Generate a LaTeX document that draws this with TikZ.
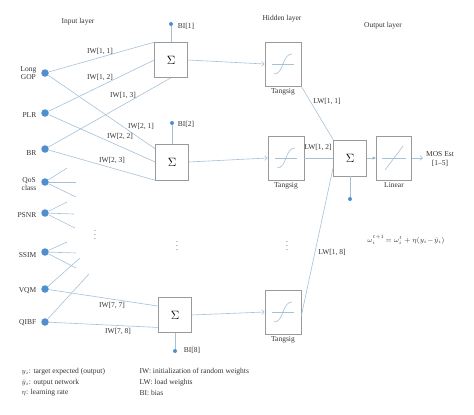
\documentclass[tikz,border=0pt]{standalone}
\usepackage{fontspec}
\setmainfont{Liberation Serif}
\usetikzlibrary{arrows.meta,calc}
\definecolor{linec}{HTML}{A6C1D6}
\definecolor{dotc}{HTML}{4F8FD0}
\definecolor{boxc}{HTML}{9A9A9A}
\definecolor{txtc}{HTML}{333333}
\tikzset{
  wire/.style={draw=linec,line width=0.6pt},
  indot/.style={circle,fill=dotc,inner sep=0pt,minimum size=7.5pt},
  bdot/.style={circle,fill=dotc,inner sep=0pt,minimum size=4pt},
  sumbox/.style={draw=boxc,line width=0.6pt,minimum width=33pt,minimum height=35pt,inner sep=0pt,font=\fontsize{12}{13}\selectfont},
  actbox/.style={draw=boxc,line width=0.6pt,minimum width=36pt,minimum height=44pt,inner sep=0pt},
  lbl/.style={text=txtc,inner sep=0.5pt,font=\fontsize{7.5}{8.5}\selectfont},
  inlbl/.style={lbl,anchor=east,align=center},
  icon/.style={draw=linec,line width=0.6pt},
  openarr/.style={-{Straight Barb[length=2.5pt,width=4.5pt]}},
  sigm/.pic={\draw[icon] (-11,0)--(11,0); \draw[icon] (-9,10) .. controls (1,10) and (-1,-10) .. (9,-10);},
  linr/.pic={\draw[icon] (-12,0)--(12,0); \draw[icon] (-9,12)--(9,-12);}
}
\begin{document}
\begin{tikzpicture}[x=1pt,y=-1pt]
\useasboundingbox (0,0) rectangle (474,415);
% headers
\node[lbl] (hin) at (78,22) {Input layer};
\node[lbl] (hhid) at (282,19) {Hidden layer};
\node[lbl] (hout) at (383,26) {Output layer};
% input dots
\node[indot] (i1) at (45,73) {};
\node[indot] (i2) at (45,113) {};
\node[indot] (i3) at (45,149) {};
\node[indot] (i4) at (45,182) {};
\node[indot] (i5) at (45,213) {};
\node[indot] (i6) at (45,252) {};
\node[indot] (i7) at (45,289) {};
\node[indot] (i8) at (45,322) {};
\node[inlbl] (t1) at (37,73) {Long\\GOP};
\node[inlbl] (t2) at (37,115) {PLR};
\node[inlbl] (t3) at (37,153) {BR};
\node[inlbl] (t4) at (37,184) {QoS\\class};
\node[inlbl] (t5) at (37,215) {PSNR};
\node[inlbl] (t6) at (37,255) {SSIM};
\node[inlbl] (t7) at (37,291) {VQM};
\node[inlbl] (t8) at (37,323) {QIBF};
% sum boxes
\node[sumbox] (s1) at (171,60) {$\Sigma$};
\node[sumbox,minimum height=36pt] (s2) at (172,162) {$\Sigma$};
\node[sumbox] (s3) at (175,315) {$\Sigma$};
% bias
\node[bdot] (b1) at (171,24) {};
\node[bdot] (b2) at (172,123) {};
\node[bdot] (b8) at (175,351) {};
\draw[wire] (b1) -- (s1);
\draw[wire] (b2) -- (s2);
\draw[wire] (b8) -- (s3);
\node[lbl] (bl1) at (186,26) {BI[1]};
\node[lbl] (bl2) at (186,124) {BI[2]};
\node[lbl] (bl8) at (192,350) {BI[8]};
% input connections
\draw[wire] (i1) -- (s1.north west);
\draw[wire] (i2) -- (s1.west);
\draw[wire] (i3) -- (s1.south);
\draw[wire] (i1) -- ($(s2.north west)!0.14!(s2.south west)$);
\draw[wire] (i2) -- (s2.west);
\draw[wire] (i3) -- (s2.south west);
\draw[wire] (i7) -- ($(s3.north west)!0.25!(s3.south west)$);
\draw[wire] (i8) -- ($(s3.north west)!0.85!(s3.south west)$);
% stubs
\coordinate (q1) at (67,168); \coordinate (q2) at (76,182); \coordinate (q3) at (76,197);
\coordinate (p1) at (67,202); \coordinate (p2) at (74,214); \coordinate (p3) at (75,228);
\coordinate (r1) at (67,242); \coordinate (r2) at (76,253); \coordinate (r3) at (76,268);
\coordinate (v1) at (80,258); \coordinate (w1) at (89,274);
\draw[wire] (i4) -- (q1); \draw[wire] (i4) -- (q2); \draw[wire] (i4) -- (q3);
\draw[wire] (i5) -- (p1); \draw[wire] (i5) -- (p2); \draw[wire] (i5) -- (p3);
\draw[wire] (i6) -- (r1); \draw[wire] (i6) -- (r2); \draw[wire] (i6) -- (r3);
\draw[wire] (i7) -- (v1);
\draw[wire] (i8) -- (w1);
% weight labels
\node[lbl] (w11) at (100,51) {IW[1, 1]};
\node[lbl] (w12) at (100,77) {IW[1, 2]};
\node[lbl] (w13) at (123,95) {IW[1, 3]};
\node[lbl] (w21) at (141,126) {IW[2, 1]};
\node[lbl] (w22) at (120,136) {IW[2, 2]};
\node[lbl] (w23) at (112,160) {IW[2, 3]};
\node[lbl] (w77) at (112,305) {IW[7, 7]};
\node[lbl] (w78) at (118,331) {IW[7, 8]};
% dots
\node[lbl] (d1) at (95,232) {$\vdots$};
\node[lbl] (d2) at (177,243) {$\vdots$};
\node[lbl] (d3) at (287,243) {$\vdots$};
% hidden layer
\node[actbox] (h1) at (283,64) {};
\node[actbox] (h2) at (286,158) {};
\node[actbox] (h3) at (283,312) {};
\pic at (h1.center) {sigm};
\pic at (h2.center) {sigm};
\pic at (h3.center) {sigm};
\node[lbl,anchor=north] (th1) at ([yshift=-1.5pt]h1.south) {Tangsig};
\node[lbl,anchor=north] (th2) at ([yshift=-1.5pt]h2.south) {Tangsig};
\node[lbl,anchor=north] (th3) at ([yshift=-1.5pt]h3.south) {Tangsig};
\draw[wire,openarr] (s1.east) -- (h1.west);
\draw[wire,openarr] (s2.east) -- (h2.west);
\draw[wire,openarr] (s3.east) -- (h3.west);
% output layer
\node[sumbox,minimum height=36pt] (o) at (350,158) {$\Sigma$};
\node[bdot] (bo) at (350,199) {};
\draw[wire] (o) -- (bo);
\draw[wire] (h1.south east) -- (o.north west);
\draw[wire] (h2.east) -- (o.west);
\draw[wire] ([yshift=-4pt]h3.east) -- ($(o.north west)!0.75!(o.south west)$);
\node[lbl] (lw11) at (327,101) {LW[1, 1]};
\node[lbl] (lw12) at (318,147) {LW[1, 2]};
\node[lbl] (lw18) at (332,252) {LW[1, 8]};
\node[actbox,minimum width=35pt] (lin) at (394,158) {};
\pic at (lin.center) {linr};
\node[lbl,anchor=north] (tl) at ([yshift=-1.5pt]lin.south) {Linear};
\draw[wire,-{Latex[length=3.5pt,width=3.5pt,fill=dotc]}] (o.east) -- (lin.west);
\coordinate (oend) at (423,158);
\draw[wire,openarr] (lin.east) -- (oend);
\node[lbl,align=center] (mos) at (440,159) {MOS Est\\{}[1--5]};
% formula
\node[lbl] (form) at (406,240) {$\omega_i^{t+1}\!=\omega_i^{t}+\eta(y_i\!-\!\bar{y}_i)$};
% legend
\node[lbl,anchor=west] (g1) at (21,372) {$y_i$: target expected (output)};
\node[lbl,anchor=west] (g2) at (21,383) {$\bar{y}_i$: output network};
\node[lbl,anchor=west] (g3) at (21,393) {$\eta$: learning rate};
\node[lbl,anchor=west] (g4) at (139,372) {IW: initialization of random weights};
\node[lbl,anchor=west] (g5) at (139,383) {LW: load weights};
\node[lbl,anchor=west] (g6) at (139,393) {BI: bias};
\end{tikzpicture}
\end{document}
